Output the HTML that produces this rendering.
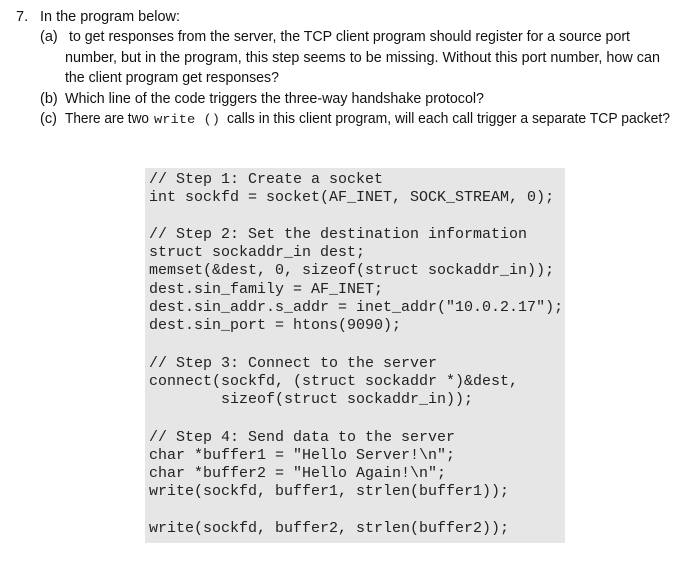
<!DOCTYPE html>
<html><head><meta charset="utf-8"><style>
html,body{margin:0;padding:0;background:#fff;width:700px;height:566px;overflow:hidden}
svg{display:block}
.t{font-family:"Liberation Sans Narrow","Liberation Sans",sans-serif;font-size:14.5px;fill:#111}
.m{font-family:"Liberation Mono",monospace;font-size:15px;fill:#222}
</style></head><body>
<svg width="700" height="566" xmlns="http://www.w3.org/2000/svg">
<text class="t" x="16" y="21">7.</text>
<text class="t" x="40" y="21" textLength="140" lengthAdjust="spacingAndGlyphs">In the program below:</text>
<text class="t" x="40" y="41">(a)</text>
<text class="t" x="69" y="41" textLength="561" lengthAdjust="spacingAndGlyphs">to get responses from the server, the TCP client program should register for a source port</text>
<text class="t" x="65" y="62" textLength="595" lengthAdjust="spacingAndGlyphs">number, but in the program, this step seems to be missing. Without this port number, how can</text>
<text class="t" x="65" y="82" textLength="214" lengthAdjust="spacingAndGlyphs">the client program get responses?</text>
<text class="t" x="40" y="103">(b)</text>
<text class="t" x="65" y="103" textLength="419" lengthAdjust="spacingAndGlyphs">Which line of the code triggers the three-way handshake protocol?</text>
<text class="t" x="40" y="123">(c)</text>
<text class="t" x="65" y="123" textLength="84" lengthAdjust="spacingAndGlyphs">There are two</text>
<text class="m" x="154" y="123" style="font-size:13px" textLength="66" lengthAdjust="spacingAndGlyphs">write ()</text>
<text class="t" x="227" y="123" textLength="443" lengthAdjust="spacingAndGlyphs">calls in this client program, will each call trigger a separate TCP packet?</text>
<rect x="145" y="168" width="420" height="375" fill="#e6e6e6"/>
<g class="m" style="white-space:pre">
<text class="m" x="149" y="183">// Step 1: Create a socket</text>
<text class="m" x="149" y="201">int sockfd = socket(AF_INET, SOCK_STREAM, 0);</text>
<text class="m" x="149" y="238">// Step 2: Set the destination information</text>
<text class="m" x="149" y="256">struct sockaddr_in dest;</text>
<text class="m" x="149" y="274">memset(&amp;dest, 0, sizeof(struct sockaddr_in));</text>
<text class="m" x="149" y="293">dest.sin_family = AF_INET;</text>
<text class="m" x="149" y="311">dest.sin_addr.s_addr = inet_addr("10.0.2.17");</text>
<text class="m" x="149" y="329">dest.sin_port = htons(9090);</text>
<text class="m" x="149" y="367">// Step 3: Connect to the server</text>
<text class="m" x="149" y="385">connect(sockfd, (struct sockaddr *)&amp;dest,</text>
<text class="m" x="221" y="403">sizeof(struct sockaddr_in));</text>
<text class="m" x="149" y="441">// Step 4: Send data to the server</text>
<text class="m" x="149" y="459">char *buffer1 = "Hello Server!\n";</text>
<text class="m" x="149" y="477">char *buffer2 = "Hello Again!\n";</text>
<text class="m" x="149" y="495">write(sockfd, buffer1, strlen(buffer1));</text>
<text class="m" x="149" y="532">write(sockfd, buffer2, strlen(buffer2));</text>
</g>
</svg>
</body></html>
